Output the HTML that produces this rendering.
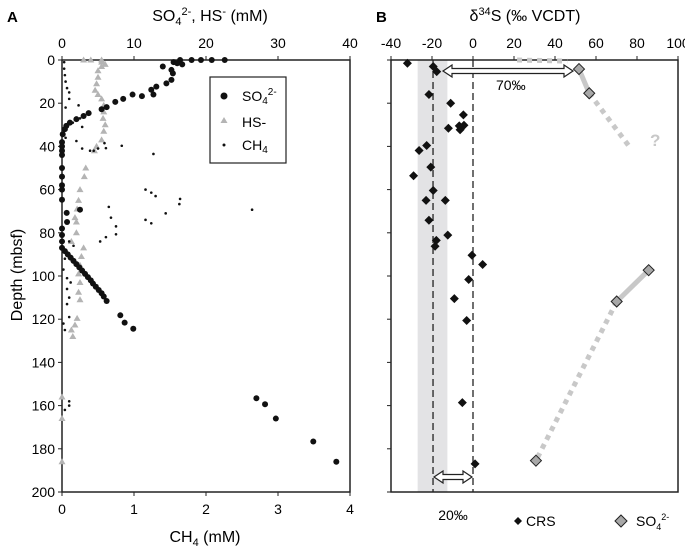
<!DOCTYPE html>
<html><head><meta charset="utf-8"><style>
body{margin:0;background:#fff}
svg{font-family:"Liberation Sans",sans-serif;display:block}
</style></head><body>
<svg id="c" width="685" height="547" viewBox="0 0 685 547">
<text x="7" y="22" font-size="15" font-weight="bold">A</text>
<text x="376" y="22" font-size="15" font-weight="bold">B</text>
<text x="210" y="21" font-size="16" text-anchor="middle">SO<tspan font-size="11" dy="4">4</tspan><tspan font-size="11" dy="-10">2-</tspan><tspan dy="6">, HS</tspan><tspan font-size="11" dy="-6">-</tspan><tspan dy="6"> (mM)</tspan></text>
<text x="205" y="542" font-size="16" text-anchor="middle">CH<tspan font-size="11" dy="4">4</tspan><tspan dy="-4"> (mM)</tspan></text>
<text transform="translate(22,275) rotate(-90)" font-size="16" text-anchor="middle">Depth (mbsf)</text>
<text x="525" y="21" font-size="16" text-anchor="middle">δ<tspan font-size="11" dy="-6">34</tspan><tspan dy="6">S (‰ VCDT)</tspan></text>
<g id="ga"></g><g id="gb"></g>
</svg>
<script>
const NS='http://www.w3.org/2000/svg';
function mk(p,t,a){const e=document.createElementNS(NS,t);for(const k in a)e.setAttribute(k,a[k]);p.appendChild(e);return e;}
// ---- data panel A ----
const so4Depth=[0,0,0,0,0,1,1.5,2,3,4.6,6.2,9.2,10.8,12.3,13.8,16,16.7,16,18,19.4,21.8,22.8,24.6,25.9,27.4,29,30.5,32,34.4,38,40,42,44,50,54,58,60,64.7,69.3,70.8,75,78,81,84,87,88.5,90,91.5,93,94.5,96,97.5,99,100.5,102,103.5,105,106.5,108,109.5,111.6,118.2,121.6,124.4,156.6,159.4,166,176.6,186];
const so4Val=[16.4,18,19.3,20.8,22.6,15.5,16,16.7,14,15.2,15.4,15.2,14.5,13.1,12.4,12.7,11.1,9.8,8.5,7.4,6.2,5.5,3.7,3,2,1.1,0.6,0.4,0.1,0,0,0,0,0,0,0,0,0,2.5,0.65,0.7,0,0,0,0,0.4,0.8,1.2,1.6,2,2.4,2.8,3.2,3.6,4,4.3,4.7,5.1,5.5,5.8,6.2,8.1,8.7,9.9,27,28.2,29.7,34.9,38.1];
const hsDepth=[0,0,0,1,2,3,5,8,11,14,16,18,21,24,27,30,33,37,40,42,50,54,60,65,69,73,75,80,84,87,91,95,99,103,107.5,111,119.6,122.7,125,128,156,166,186];
const hsVal=[3,4,5.5,5.5,6,5.5,5,5,4.8,4.6,5,5.5,5.8,5.8,5.7,6,5.8,5.5,4.8,4.5,3.3,3.1,2.5,2.3,2.1,1.8,2,2,1.3,3,2.7,2.5,2.3,2.5,2.3,2.5,2.1,1.8,1.3,1.5,0,0,0];
const ch4Depth=[1,4,7,10,13,15,18,22,21,27,29,31,36,37.5,41,42,42,41,38.5,40.8,39.7,43.5,60,61.4,63,64.3,66.7,69.3,68,73,71,74,75.6,77,80.7,82,84,84,86,92,97,101,103,106,110,113,119,122,125,158,160,162];
const ch4Val=[0.03,0.03,0.04,0.05,0.07,0.1,0.1,0.05,0.23,0.25,0.15,0.28,0.05,0.2,0.28,0.39,0.44,0.5,0.59,0.61,0.83,1.27,1.16,1.24,1.3,1.64,1.63,2.64,0.65,0.68,1.44,1.16,1.24,0.75,0.75,0.61,0.53,0.1,0.16,0.04,0.02,0.07,0.12,0.07,0.1,0.07,0.1,0.02,0.04,0.1,0.1,0.04];
const aTopTicks=[0,10,20,30,40];
const aBotTicks=[0,1,2,3,4];
const depthTicks=[0,20,40,60,80,100,120,140,160,180,200];
// ---- data panel B ----
const crsDepth=[1.5,3,5.4,16,20,25.4,31.6,30.5,30.2,32.3,39.6,41.9,49.6,53.6,60.4,65,65,74.2,81.1,83.5,86.2,90.4,94.7,101.6,110.5,120.6,158.6,187];
const crsVal=[-32,-19.4,-17.7,-21.5,-10.9,-4.7,-12,-6.7,-4.4,-6.3,-22.6,-26.3,-20.6,-29,-19.4,-22.9,-13.5,-21.5,-12.3,-17.9,-18.5,-0.5,4.7,-2.1,-9.1,-3.1,-5.2,1];
const sulfDepth=[4.2,15.4,97.3,111.8,185.5];
const sulfVal=[51.7,56.7,85.7,70.1,30.7];
const bTicks=[-40,-20,0,20,40,60,80,100];

const T=60,B=492;
const yD=d=>T+(B-T)*d/200;
const AL=62,AR=350;
const xA=v=>AL+(AR-AL)*v/40, xC=v=>AL+(AR-AL)*v/4;
const BL=391,BR=678;
const xB=v=>BL+(BR-BL)*(v+40)/140;

const ga=document.getElementById('ga');
// panel A frame
mk(ga,'rect',{x:AL,y:T,width:AR-AL,height:B-T,fill:'none',stroke:'#222','stroke-width':1.5,});
aTopTicks.forEach(t=>{mk(ga,'line',{x1:xA(t),x2:xA(t),y1:T,y2:T-4,stroke:'#222'});
 const e=mk(ga,'text',{x:xA(t),y:48,'font-size':14,'text-anchor':'middle'});e.textContent=t;
 });
aBotTicks.forEach(t=>{mk(ga,'line',{x1:xC(t),x2:xC(t),y1:B,y2:B+4,stroke:'#222'});
 const e=mk(ga,'text',{x:xC(t),y:514,'font-size':14,'text-anchor':'middle'});e.textContent=t;
 });
depthTicks.forEach(t=>{mk(ga,'line',{x1:AL,x2:AL-4,y1:yD(t),y2:yD(t),stroke:'#222'});
 const e=mk(ga,'text',{x:55,y:yD(t)+5,'font-size':14,'text-anchor':'end'});e.textContent=t;
 });
hsDepth.forEach((d,i)=>{const x=xA(hsVal[i]),y=yD(d);
 const e=mk(ga,'polygon',{points:`${x},${y-3.5} ${x-3.5},${y+2.5} ${x+3.5},${y+2.5}`,fill:'#b4b4b4'});
 });
ch4Depth.forEach((d,i)=>{const e=mk(ga,'circle',{cx:xC(ch4Val[i]),cy:yD(d),r:1.3,fill:'#111'});
 });
so4Depth.forEach((d,i)=>{const e=mk(ga,'circle',{cx:xA(so4Val[i]),cy:yD(d),r:3,fill:'#111'});
 });
// legend A
const lg=mk(ga,'g',{});
mk(lg,'rect',{x:210,y:77,width:76,height:86,fill:'#fff',stroke:'#222','stroke-width':1.2});
mk(lg,'circle',{cx:224,cy:96,r:3.5,fill:'#111'});
mk(lg,'polygon',{points:'224,117 220.5,123 227.5,123',fill:'#b4b4b4'});
mk(lg,'circle',{cx:224,cy:145,r:1.5,fill:'#111'});
lg.insertAdjacentHTML('beforeend','<text x="242" y="101" font-size="14">SO<tspan font-size="10" dy="3">4</tspan><tspan font-size="10" dy="-9">2-</tspan></text><text x="242" y="127" font-size="14">HS-</text><text x="242" y="150" font-size="14">CH<tspan font-size="10" dy="3">4</tspan></text>');

// panel B
const gb=document.getElementById('gb');
mk(gb,'rect',{x:xB(-27),y:T,width:xB(-12.5)-xB(-27),height:B-T,fill:'#e3e3e5',});
mk(gb,'line',{x1:xB(-19.5),x2:xB(-19.5),y1:T,y2:B,stroke:'#222','stroke-width':1.3,'stroke-dasharray':'7,4',});
mk(gb,'line',{x1:xB(0),x2:xB(0),y1:T,y2:B,stroke:'#222','stroke-width':1.3,'stroke-dasharray':'7,4',});
mk(gb,'rect',{x:BL,y:T,width:BR-BL,height:B-T,fill:'none',stroke:'#222','stroke-width':1.5,});
bTicks.forEach(t=>{mk(gb,'line',{x1:xB(t),x2:xB(t),y1:T,y2:T-4,stroke:'#222'});
 const e=mk(gb,'text',{x:xB(t),y:48,'font-size':14,'text-anchor':'middle'});e.textContent=t;
 });
depthTicks.forEach(t=>mk(gb,'line',{x1:BL,x2:BL-4,y1:yD(t),y2:yD(t),stroke:'#222'}));
// sulfate trend lines
const P=i=>[xB(sulfVal[i]),yD(sulfDepth[i])];
const dl=(a,b,n)=>{const e=mk(gb,'line',{x1:a[0],y1:a[1],x2:b[0],y2:b[1],stroke:'#c8c8c8','stroke-width':5,'stroke-dasharray':'5,5'});};
const sl=(a,b,n)=>{const e=mk(gb,'line',{x1:a[0],y1:a[1],x2:b[0],y2:b[1],stroke:'#c8c8c8','stroke-width':5});};
dl([xB(21.5),yD(0)],[xB(46),yD(0.5)],'sulfate-trend-top');
sl(P(0),P(1),'sulfate-trend-upper');
dl(P(1),[xB(77),yD(41)],'sulfate-trend-extrapolated');
sl(P(2),P(3),'sulfate-trend-lower');
dl(P(3),P(4),'sulfate-trend-deep');
gb.insertAdjacentHTML('beforeend','<text x="650" y="146" font-size="17" font-weight="bold" fill="#c8c8c8">?</text>');
crsDepth.forEach((d,i)=>{const x=xB(crsVal[i]),y=yD(d);
 const e=mk(gb,'polygon',{points:`${x},${y-4.5} ${x+4.5},${y} ${x},${y+4.5} ${x-4.5},${y}`,fill:'#111'});
 });
sulfDepth.forEach((d,i)=>{const x=xB(sulfVal[i]),y=yD(d);
 const e=mk(gb,'polygon',{points:`${x},${y-5.5} ${x+5.5},${y} ${x},${y+5.5} ${x-5.5},${y}`,fill:'#a8a8a8',stroke:'#222','stroke-width':1});
 });
function arrow(x1,x2,y,n){const h=6,w=9;
 const e=mk(gb,'polygon',{points:`${x1},${y} ${x1+w},${y-h} ${x1+w},${y-2.5} ${x2-w},${y-2.5} ${x2-w},${y-h} ${x2},${y} ${x2-w},${y+h} ${x2-w},${y+2.5} ${x1+w},${y+2.5} ${x1+w},${y+h}`,fill:'#fff',stroke:'#222','stroke-width':1.2});
 }
arrow(443,573,71,'fractionation-arrow-70');
arrow(434,472,477,'fractionation-arrow-20');
gb.insertAdjacentHTML('beforeend','<text x="496" y="90" font-size="14">70‰</text><text x="453" y="520" font-size="14" text-anchor="middle">20‰</text>');
// legend B
gb.insertAdjacentHTML('beforeend','<g><polygon points="518,517 522,521 518,525 514,521" fill="#111"/><text x="526" y="526" font-size="14">CRS</text><polygon points="621,515 627,521 621,527 615,521" fill="#a8a8a8" stroke="#222"/><text x="636" y="526" font-size="14">SO<tspan font-size="9" dy="4">4</tspan><tspan font-size="9" dy="-10">2-</tspan></text></g>');
</script>
</body></html>
